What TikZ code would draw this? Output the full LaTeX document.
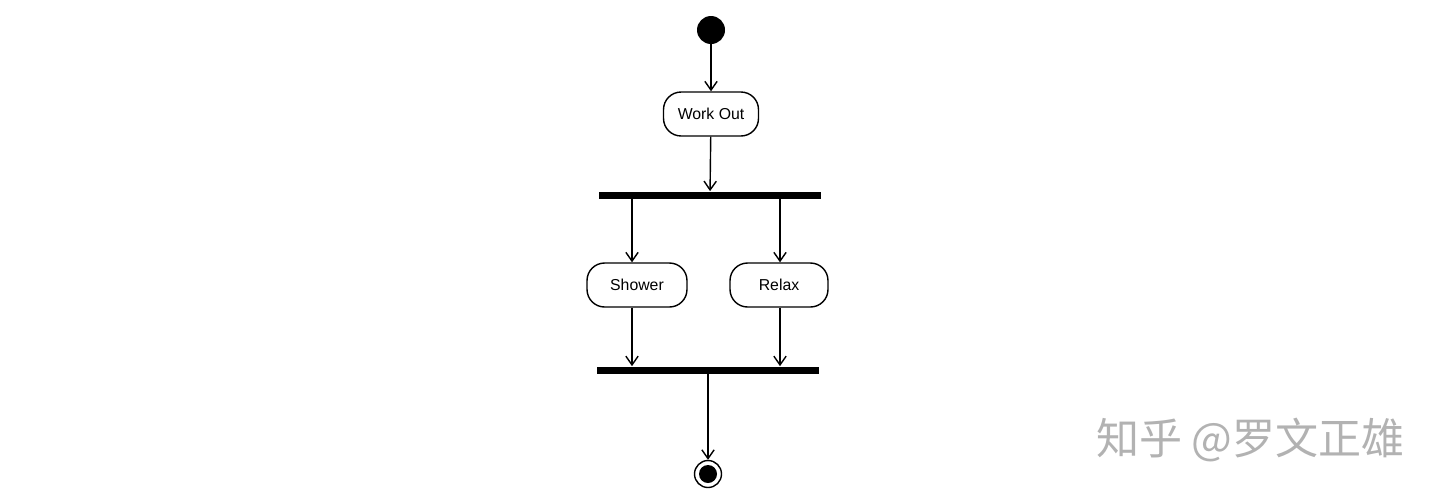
\documentclass[tikz,border=0pt]{standalone}
\usepackage{fontspec}
\setmainfont{Liberation Sans}
\newfontfamily\cjk{Noto Sans CJK SC}
\usetikzlibrary{arrows.meta}
\begin{document}
\begin{tikzpicture}[x=0.02cm,y=-0.02cm,
  act/.style={draw,thick,rounded corners=10pt,minimum width=1.9cm,minimum height=0.88cm,font=\small,inner sep=0pt},
  bar/.style={fill=black,minimum width=4.44cm,minimum height=0.14cm,inner sep=0pt},
  flow/.style={thick,-{Straight Barb[length=5pt,width=7pt]}}]
\useasboundingbox (0,0) rectangle (1436,498);
\node[circle,fill=black,minimum size=0.56cm,inner sep=0pt] (start) at (711,30) {};
\node[act] (work) at (711,114) {Work Out};
\node[bar] (fork) at (710,195) {};
\node[act,minimum width=2cm] (shower) at (637,285) {Shower};
\node[act,minimum width=1.96cm] (relax) at (779,285) {Relax};
\node[bar] (join) at (708,370) {};
\node[circle,draw,thick,minimum size=0.54cm,inner sep=0pt] (end) at (708,474) {};
\node[circle,fill=black,minimum size=0.36cm,inner sep=0pt] at (end) {};
\draw[flow] (start) -- (work);
\draw[flow] (work) -- (fork);
\draw[flow] (fork.south -| 632,0) -- (shower.north -| 632,0);
\draw[flow] (fork.south -| 780,0) -- (relax.north -| 780,0);
\draw[flow] (shower.south -| 632,0) -- (join.north -| 632,0);
\draw[flow] (relax.south -| 780,0) -- (join.north -| 780,0);
\draw[flow] (join) -- (end);
\node[text=gray!60,font=\cjk\fontsize{24.5}{28}\selectfont,anchor=west] (wm) at (1090,440) {知乎 @罗文正雄};
\end{tikzpicture}
\end{document}
